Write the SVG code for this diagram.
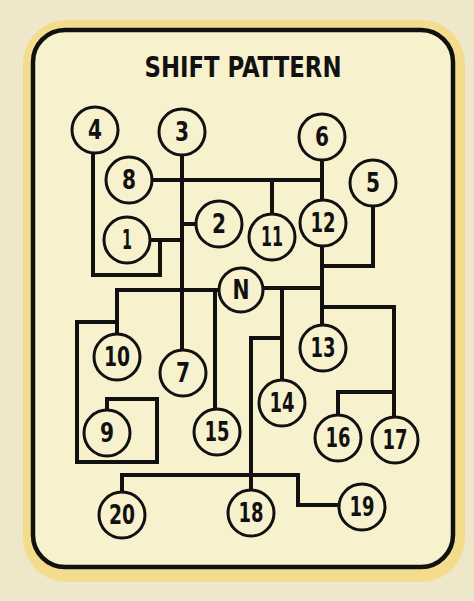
<svg xmlns="http://www.w3.org/2000/svg" width="474" height="601" viewBox="0 0 474 601">
<style>
.ln{fill:none;stroke:#111;stroke-width:4;stroke-linejoin:miter;stroke-linecap:square}
.nd circle{fill:#f8f1cd;stroke:#111;stroke-width:3}
.nd text{font-family:"DejaVu Sans Condensed","DejaVu Sans",sans-serif;font-weight:bold;font-size:26px;fill:#111;text-anchor:middle}
</style>
<rect x="0" y="0" width="474" height="601" fill="#efe7ca"/>
<rect x="23" y="20" width="442" height="562" rx="44" fill="#f3dd8c"/>
<rect x="33" y="30" width="420" height="537" rx="32" fill="#f8f1cd" stroke="#111" stroke-width="4.5"/>
<text x="243" y="77" font-family="'DejaVu Sans Condensed','DejaVu Sans',sans-serif" font-weight="bold" font-size="28" fill="#111" text-anchor="middle" textLength="197" lengthAdjust="spacingAndGlyphs">SHIFT  PATTERN</text>
<g id="connectors">
<path class="ln" d="M182,132 V373"/>
<path class="ln" d="M129,180 H322"/>
<path class="ln" d="M272,180 V237"/>
<path class="ln" d="M322,137 V348"/>
<path class="ln" d="M373,183 V266 H322"/>
<path class="ln" d="M93,131 V275 H160 V240"/>
<path class="ln" d="M127,240 H182"/>
<path class="ln" d="M182,224 H219"/>
<path class="ln" d="M117,357 V290 H241"/>
<path class="ln" d="M117,322 H77 V462 H157 V399 H107 V432"/>
<path class="ln" d="M215,290 V432"/>
<path class="ln" d="M241,288 H322"/>
<path class="ln" d="M282,288 V403"/>
<path class="ln" d="M282,338 H251 V513"/>
<path class="ln" d="M322,307 H394 V440"/>
<path class="ln" d="M394,392 H338 V438"/>
<path class="ln" d="M122,515 V475 H298 V505 H362"/>
</g>
<g id="n4" class="nd"><circle cx="95" cy="130" r="23"/><text x="95" y="139" textLength="14" lengthAdjust="spacingAndGlyphs">4</text></g>
<g id="n3" class="nd"><circle cx="182" cy="132" r="23"/><text x="182" y="141" textLength="14" lengthAdjust="spacingAndGlyphs">3</text></g>
<g id="n6" class="nd"><circle cx="322" cy="137" r="23"/><text x="322" y="146" textLength="14" lengthAdjust="spacingAndGlyphs">6</text></g>
<g id="n8" class="nd"><circle cx="129" cy="180" r="23"/><text x="129" y="189" textLength="14" lengthAdjust="spacingAndGlyphs">8</text></g>
<g id="n5" class="nd"><circle cx="373" cy="183" r="23"/><text x="373" y="192" textLength="14" lengthAdjust="spacingAndGlyphs">5</text></g>
<g id="n2" class="nd"><circle cx="219" cy="224" r="23"/><text x="219" y="233" textLength="14" lengthAdjust="spacingAndGlyphs">2</text></g>
<g id="n11" class="nd"><circle cx="272" cy="237" r="23"/><text x="272" y="246" textLength="22" lengthAdjust="spacingAndGlyphs">11</text></g>
<g id="n12" class="nd"><circle cx="323" cy="223" r="23"/><text x="323" y="232" textLength="25" lengthAdjust="spacingAndGlyphs">12</text></g>
<g id="n1" class="nd"><circle cx="127" cy="240" r="23"/><text x="127" y="249" textLength="10" lengthAdjust="spacingAndGlyphs">1</text></g>
<g id="nN" class="nd"><circle cx="241" cy="290" r="22" stroke-width="4.5"/><text x="241" y="299" textLength="17" lengthAdjust="spacingAndGlyphs">N</text></g>
<g id="n10" class="nd"><circle cx="117" cy="357" r="23"/><text x="117" y="366" textLength="26" lengthAdjust="spacingAndGlyphs">10</text></g>
<g id="n7" class="nd"><circle cx="183" cy="373" r="23"/><text x="183" y="382" textLength="14" lengthAdjust="spacingAndGlyphs">7</text></g>
<g id="n13" class="nd"><circle cx="323" cy="348" r="23"/><text x="323" y="357" textLength="25" lengthAdjust="spacingAndGlyphs">13</text></g>
<g id="n14" class="nd"><circle cx="282" cy="403" r="23"/><text x="282" y="412" textLength="25" lengthAdjust="spacingAndGlyphs">14</text></g>
<g id="n9" class="nd"><circle cx="107" cy="433" r="23"/><text x="107" y="442" textLength="14" lengthAdjust="spacingAndGlyphs">9</text></g>
<g id="n15" class="nd"><circle cx="217" cy="432" r="23"/><text x="217" y="441" textLength="25" lengthAdjust="spacingAndGlyphs">15</text></g>
<g id="n16" class="nd"><circle cx="338" cy="438" r="23"/><text x="338" y="447" textLength="25" lengthAdjust="spacingAndGlyphs">16</text></g>
<g id="n17" class="nd"><circle cx="395" cy="440" r="23"/><text x="395" y="449" textLength="25" lengthAdjust="spacingAndGlyphs">17</text></g>
<g id="n20" class="nd"><circle cx="122" cy="515" r="23"/><text x="122" y="524" textLength="26" lengthAdjust="spacingAndGlyphs">20</text></g>
<g id="n18" class="nd"><circle cx="251" cy="513" r="23"/><text x="251" y="522" textLength="25" lengthAdjust="spacingAndGlyphs">18</text></g>
<g id="n19" class="nd"><circle cx="362" cy="507" r="23"/><text x="362" y="516" textLength="25" lengthAdjust="spacingAndGlyphs">19</text></g>
</svg>
